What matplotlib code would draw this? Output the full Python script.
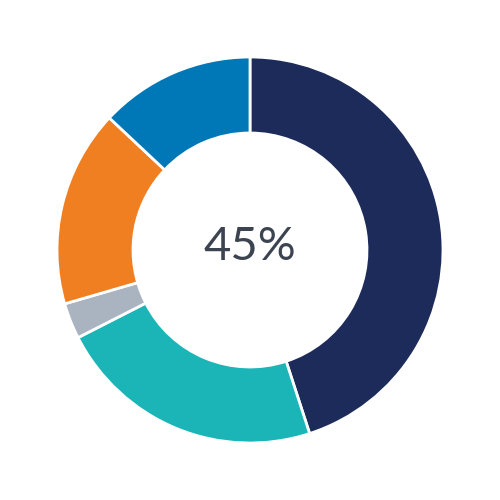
import matplotlib.pyplot as plt

labels = ["Navy", "Teal", "Gray", "Orange", "Blue"]
values = [45, 22.5, 3, 16.5, 13]
colors = ["#1c2b5a", "#1bb5b8", "#aab4c1", "#f07f22", "#0077b6"]
center_label = "45%"

fig = plt.figure(figsize=(5, 5), dpi=100)
ax = fig.add_axes([0, 0, 1, 1])
ax.pie(values, colors=colors, startangle=90, counterclock=False,
       radius=0.772, wedgeprops=dict(width=0.304, edgecolor="white", linewidth=2))
ax.text(0, 0.01, center_label, ha="center", va="center", fontsize=34,
        color="#3d4451", family=["Lato", "DejaVu Sans"])
ax.set_xlim(-1, 1)
ax.set_ylim(-1, 1)
ax.set_aspect("equal")
ax.axis("off")
fig.savefig("out.png", dpi=100, facecolor="white")
